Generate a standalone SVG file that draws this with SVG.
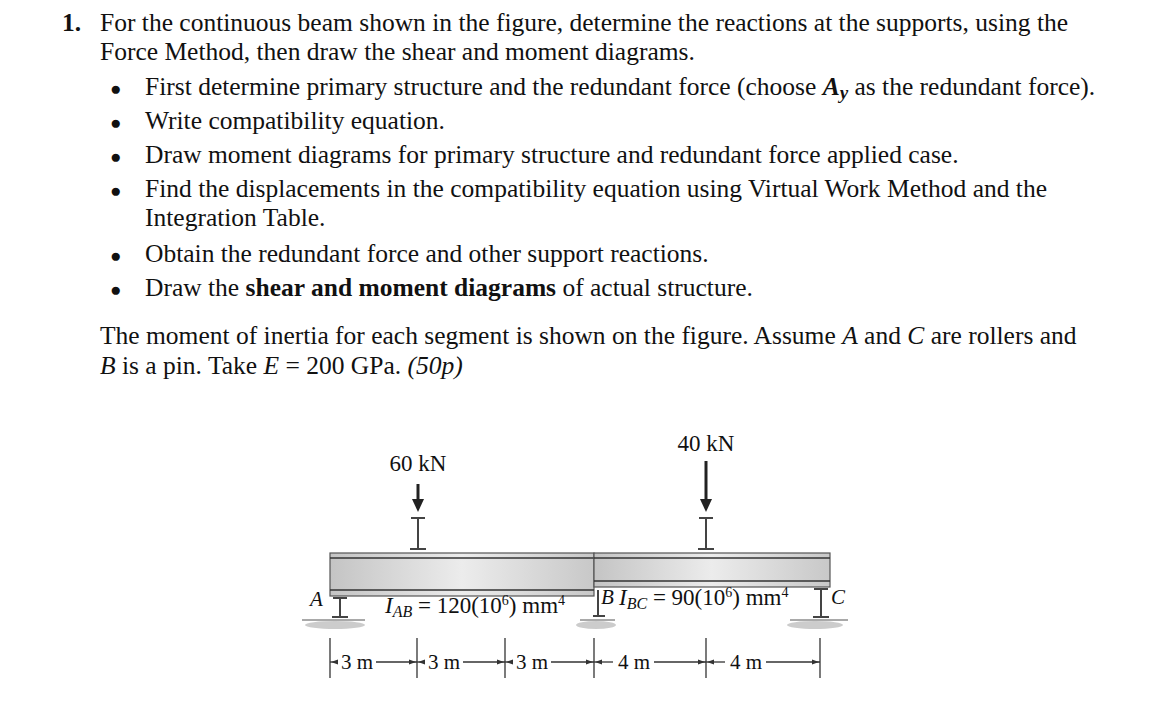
<svg xmlns="http://www.w3.org/2000/svg" width="1158" height="716" viewBox="0 0 1158 716">
<defs>
<style>
text{font-family:"Liberation Serif","Times New Roman",serif;fill:#111}
.t{font-size:25.5px}
.b{font-size:19px}
.d{font-size:21px}
.ln{stroke:#333;stroke-width:1.3;fill:none}
.beam{fill:url(#g);stroke:#555;stroke-width:1.2}
.ah{fill:#333}
</style>
<linearGradient id="g" x1="0" x2="1" y1="0" y2="0">
<stop offset="0" stop-color="#c4c4c4"/><stop offset="0.5" stop-color="#ececec"/><stop offset="1" stop-color="#c8c8c8"/>
</linearGradient>
</defs>
<g id="text">
<text x="62" y="31" class="t" font-weight="bold">1.</text>
<text x="100" y="31" class="t">For the continuous beam shown in the figure, determine the reactions at the supports, using the</text>
<text x="100" y="60" class="t">Force Method, then draw the shear and moment diagrams.</text>
<g class="t">
<text x="110" y="95" class="b">●</text><text x="145" y="95">First determine primary structure and the redundant force (choose <tspan font-weight="bold" font-style="italic">A</tspan><tspan font-weight="bold" font-style="italic" font-size="19" dy="4">y</tspan><tspan dy="-4"> as the redundant force).</tspan></text>
<text x="110" y="129" class="b">●</text><text x="145" y="129">Write compatibility equation.</text>
<text x="110" y="163" class="b">●</text><text x="145" y="163">Draw moment diagrams for primary structure and redundant force applied case.</text>
<text x="110" y="197" class="b">●</text><text x="145" y="197">Find the displacements in the compatibility equation using Virtual Work Method and the</text>
<text x="145" y="226">Integration Table.</text>
<text x="110" y="262" class="b">●</text><text x="145" y="262">Obtain the redundant force and other support reactions.</text>
<text x="110" y="296" class="b">●</text><text x="145" y="296">Draw the <tspan font-weight="bold">shear and moment diagrams</tspan> of actual structure.</text>
<text x="100" y="344">The moment of inertia for each segment is shown on the figure. Assume <tspan font-style="italic">A</tspan> and <tspan font-style="italic">C</tspan> are rollers and</text>
<text x="100" y="374"><tspan font-style="italic">B</tspan> is a pin. Take <tspan font-style="italic">E</tspan> = 200 GPa. <tspan font-style="italic">(50p)</tspan></text>
</g>
</g>
<g id="beamAB"><rect x="330" y="553" width="264" height="43" class="beam"/><line x1="330" y1="558" x2="594" y2="558" class="ln"/><line x1="330" y1="590" x2="594" y2="590" class="ln"/></g>
<g id="beamBC"><rect x="594" y="553" width="236" height="34" class="beam"/><line x1="594" y1="558" x2="830" y2="558" class="ln"/><line x1="594" y1="581" x2="830" y2="581" class="ln"/></g>
<g id="load60">
<text x="418" y="471" text-anchor="middle" font-size="23">60 kN</text>
<line x1="418" y1="484" x2="418" y2="500" stroke="#222" stroke-width="3"/>
<polygon points="412,499 424,499 418,512" fill="#222"/>
<path d="M411,518h14M418,518v30M410,549h16" stroke="#444" stroke-width="2" fill="none"/>
</g>
<g id="load40">
<text x="706" y="451" text-anchor="middle" font-size="23">40 kN</text>
<line x1="706" y1="461" x2="706" y2="500" stroke="#222" stroke-width="3"/>
<polygon points="700,499 712,499 706,512" fill="#222"/>
<path d="M699,518h14M706,518v30M698,549h16" stroke="#444" stroke-width="2" fill="none"/>
</g>
<g id="supportA">
<path d="M333,598h14M340,598v18M332,617h16" stroke="#444" stroke-width="2" fill="none"/>
<line x1="302" y1="620" x2="365" y2="620" stroke="#555" stroke-width="1.2"/>
<ellipse cx="335" cy="625" rx="30" ry="4" fill="#aaa" opacity="0.6"/>
<text x="310" y="606" font-style="italic" font-size="21">A</text>
</g>
<g id="supportB">
<path d="M598,590v26M593,616h12" stroke="#444" stroke-width="2" fill="none"/>
<line x1="580" y1="620" x2="615" y2="620" stroke="#555" stroke-width="1.2"/>
<ellipse cx="596" cy="625" rx="20" ry="4" fill="#aaa" opacity="0.6"/>
<text x="601" y="604" font-style="italic" font-size="21">B</text>
</g>
<g id="supportC">
<path d="M814,589h14M821,589v27M813,617h16" stroke="#444" stroke-width="2" fill="none"/>
<line x1="790" y1="620" x2="848" y2="620" stroke="#555" stroke-width="1.2"/>
<ellipse cx="815" cy="625" rx="28" ry="4" fill="#aaa" opacity="0.6"/>
<text x="831" y="604" font-style="italic" font-size="21">C</text>
</g>
<g id="labels" font-size="23">
<text x="385" y="613"><tspan font-style="italic">I</tspan><tspan font-style="italic" font-size="16" dy="4">AB</tspan><tspan dy="-4"> = 120(10</tspan><tspan font-size="14" dy="-8">6</tspan><tspan dy="8">) mm</tspan><tspan font-size="14" dy="-8">4</tspan></text>
<text x="619" y="605"><tspan font-style="italic">I</tspan><tspan font-style="italic" font-size="16" dy="4">BC</tspan><tspan dy="-4"> = 90(10</tspan><tspan font-size="14" dy="-8">6</tspan><tspan dy="8">) mm</tspan><tspan font-size="14" dy="-8">4</tspan></text>
</g>
<g id="connectors">
<g class="ln"><line x1="330" y1="638" x2="330" y2="678"/><line x1="417" y1="638" x2="417" y2="678"/><line x1="505" y1="638" x2="505" y2="678"/><line x1="594" y1="638" x2="594" y2="678"/><line x1="706" y1="638" x2="706" y2="678"/><line x1="820" y1="638" x2="820" y2="678"/></g>
<g class="ln">
<line x1="330" y1="662" x2="338" y2="662"/><line x1="376" y1="662" x2="417" y2="662"/>
<line x1="417" y1="662" x2="425" y2="662"/><line x1="463" y1="662" x2="505" y2="662"/>
<line x1="505" y1="662" x2="513" y2="662"/><line x1="551" y1="662" x2="594" y2="662"/>
<line x1="594" y1="662" x2="613" y2="662"/><line x1="654" y1="662" x2="706" y2="662"/>
<line x1="706" y1="662" x2="725" y2="662"/><line x1="766" y1="662" x2="820" y2="662"/>
</g>
<g class="ah">
<polygon points="331,662 338,659.5 338,664.5"/><polygon points="416,662 409,659.5 409,664.5"/>
<polygon points="418,662 425,659.5 425,664.5"/><polygon points="504,662 497,659.5 497,664.5"/>
<polygon points="506,662 513,659.5 513,664.5"/><polygon points="593,662 586,659.5 586,664.5"/>
<polygon points="595,662 602,659.5 602,664.5"/><polygon points="705,662 698,659.5 698,664.5"/>
<polygon points="707,662 714,659.5 714,664.5"/><polygon points="819,662 812,659.5 812,664.5"/>
</g>
</g>
<g id="dims" class="d">
<text x="357" y="669" text-anchor="middle">3 m</text>
<text x="444" y="669" text-anchor="middle">3 m</text>
<text x="532" y="669" text-anchor="middle">3 m</text>
<text x="634" y="669" text-anchor="middle">4 m</text>
<text x="746" y="669" text-anchor="middle">4 m</text>
</g>
</svg>
